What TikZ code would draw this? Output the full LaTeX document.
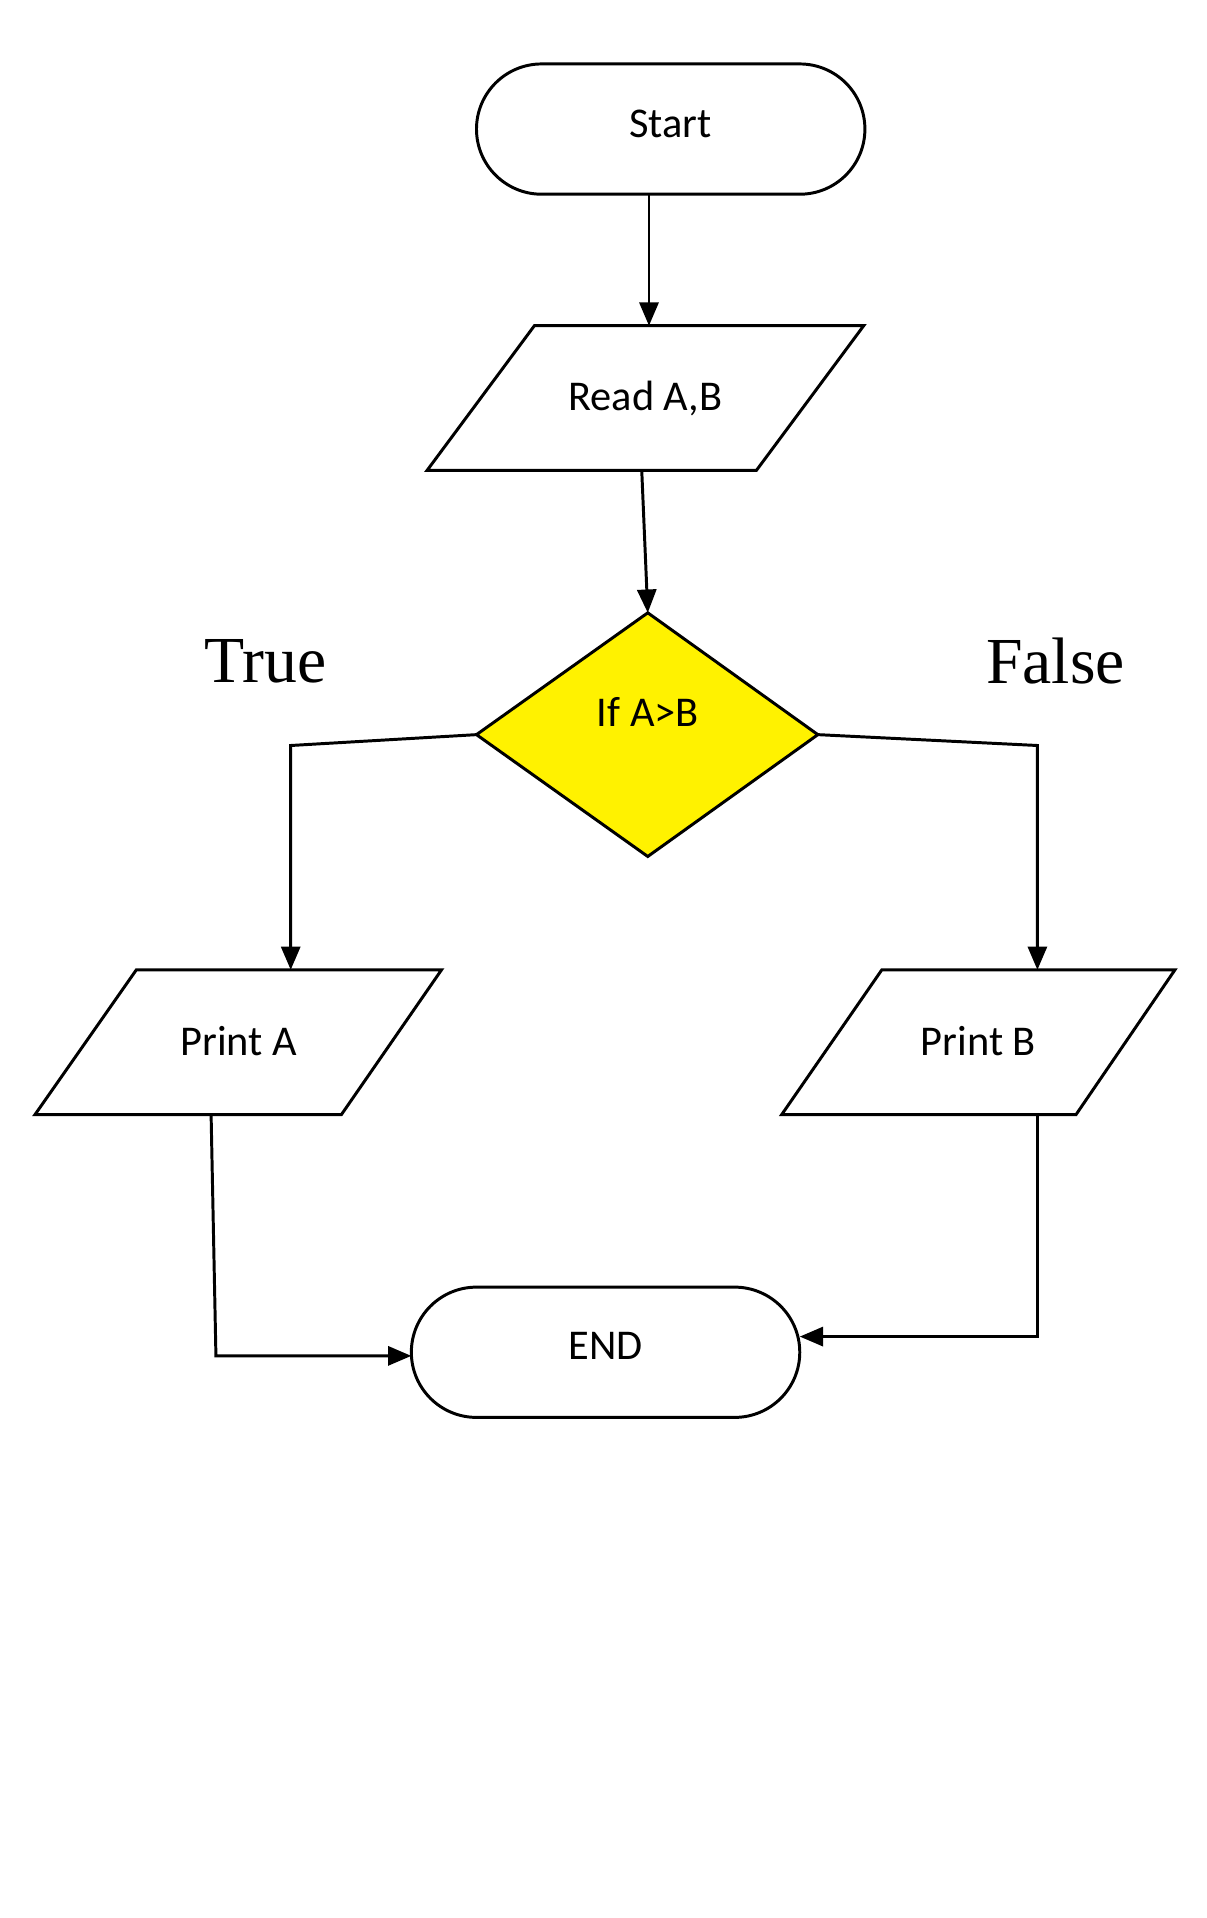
\documentclass[tikz,border=0pt]{standalone}
\usepackage{fontspec}
\setmainfont{Carlito}
\newfontfamily\serifft{Liberation Serif}
\usetikzlibrary{arrows.meta}
\begin{document}
\begin{tikzpicture}[x=0.02cm,y=-0.02cm,
  shp/.style={line width=1.4pt,line join=miter},
  con/.style={line width=1.4pt,-{Triangle[length=11pt,width=9pt]}},
  txt/.style={font=\fontsize{20}{24}\selectfont},
  lbl/.style={font=\serifft\fontsize{31}{36}\selectfont}]
\useasboundingbox (0,0) rectangle (1000,1590);
% Start
\draw[shp,rounded corners=1.08cm] (395,53) rectangle (717,161);
\node[txt] (start) at (556,103) {Start};
\coordinate (startB) at (538,161);
% Read
\draw[shp] (443,270) -- (716,270) -- (627,390) -- (354,390) -- cycle;
\node[txt] (read) at (535,330) {Read A,B};
\coordinate (readT) at (538,270);
\coordinate (readB) at (532,390);
% Decision
\draw[shp,fill=yellow] (537,508) -- (678,609) -- (537,710) -- (395,609) -- cycle;
\node[txt] (dec) at (537,590) {If A>B};
\coordinate (decT) at (537,508);
\coordinate (decL) at (395,609);
\coordinate (decR) at (678,609);
\coordinate (lk) at (241,618);
\coordinate (rk) at (860,618);
\node[lbl] (true) at (220,548) {True};
\node[lbl] (false) at (875,548) {False};
% Print A
\draw[shp] (113,804) -- (366,804) -- (283,924) -- (29,924) -- cycle;
\node[txt] (pa) at (198,863) {Print A};
\coordinate (paT) at (241,804);
\coordinate (paB) at (175,924);
\coordinate (pak) at (179,1124);
% Print B
\draw[shp] (731,804) -- (974,804) -- (892,924) -- (648,924) -- cycle;
\node[txt] (pb) at (811,863) {Print B};
\coordinate (pbT) at (860,804);
\coordinate (pbB) at (860,924);
\coordinate (pbk) at (860,1108);
% END
\draw[shp,rounded corners=1.08cm] (341,1067) rectangle (663,1175);
\node[txt] (end) at (502,1116) {END};
\coordinate (endL) at (341,1124);
\coordinate (endR) at (663,1108);
% connectors
\draw[con] (startB) -- (readT);
\draw[con] (readB) -- (decT);
\draw[con] (decL) -- (lk) -- (paT);
\draw[con] (decR) -- (rk) -- (pbT);
\draw[con] (paB) -- (pak) -- (endL);
\draw[con] (pbB) -- (pbk) -- (endR);
\end{tikzpicture}
\end{document}
